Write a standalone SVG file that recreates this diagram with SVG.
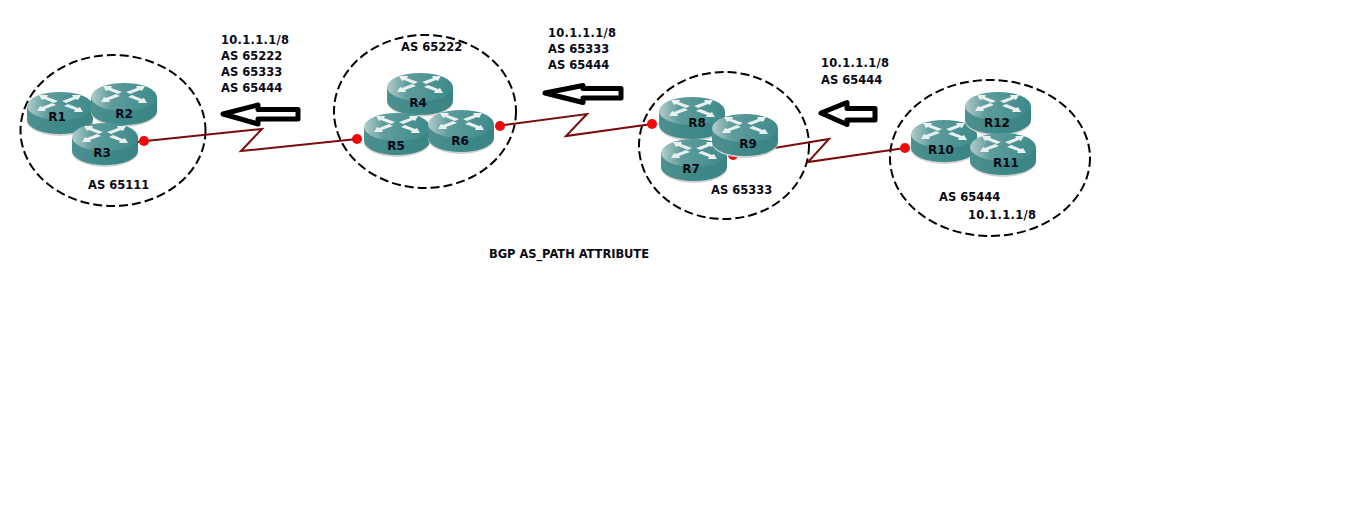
<svg xmlns="http://www.w3.org/2000/svg" width="1360" height="509" viewBox="0 0 1360 509">
<style>
text{font-family:"DejaVu Sans","Liberation Sans",sans-serif;font-weight:700;font-size:11.500px;fill:#0a0a14}
.rl{font-size:12px;text-anchor:middle}
.as{fill:none;stroke:#000;stroke-width:2;stroke-dasharray:9 4}
.link{fill:none;stroke:#7a0c0c;stroke-width:2}
.dot{fill:#f00a0a}
.arrow{fill:#fff;stroke:#000;stroke-width:5;stroke-linejoin:round}
</style>
<defs>
<linearGradient id="top" x1="0" x2="1" y1="0" y2="0"><stop offset="0" stop-color="#b4cccc"/><stop offset=".3" stop-color="#5f9c9c"/><stop offset="1" stop-color="#3c8a8a"/></linearGradient>
<linearGradient id="side" x1="0" x2="1" y1="0" y2="0"><stop offset="0" stop-color="#4f9090"/><stop offset=".5" stop-color="#3d8888"/><stop offset="1" stop-color="#3a8484"/></linearGradient>
<g id="router">
<ellipse cx="33" cy="29" rx="33" ry="15" fill="#d0d0d0"/>
<path d="M0 14V28A33 14 0 0 0 66 28V14Z" fill="url(#side)"/>
<ellipse cx="33" cy="14" rx="33" ry="14" fill="url(#top)"/>
<g fill="#e8f0f0">
<path d="M12 3L21 3L20 5L31 9L27 11L17 7L15 8Z"/>
<path d="M54 3L45 3L46 5L35 9L39 11L49 7L51 8Z"/>
<path d="M10 19L19 19L18 17L29 13L25 11L15 15L13 14Z"/>
<path d="M56 20L47 20L48 18L37 14L41 12L51 16L53 15Z"/>
</g>
</g>
</defs>
<g id="as-boundaries">
<ellipse class="as" cx="113" cy="130.500" rx="92.500" ry="75.500"/>
<ellipse class="as" cx="425" cy="111.500" rx="91" ry="76.500"/>
<ellipse class="as" cx="724" cy="145.500" rx="85" ry="73.500"/>
<ellipse class="as" cx="990" cy="158" rx="100" ry="78"/>
</g>
<g id="connectors">
<polyline class="link" points="136,142 262,129 241,151 357,139"/>
<polyline class="link" points="496,126 587,114 566,136 652,124"/>
<polyline class="link" points="732,155 829,139 808,162 905,148"/>
<circle class="dot" cx="144" cy="141" r="5"/>
<circle class="dot" cx="357" cy="139" r="5"/>
<circle class="dot" cx="500" cy="126" r="5"/>
<circle class="dot" cx="652" cy="124" r="5"/>
<circle class="dot" cx="733" cy="155" r="5"/>
<circle class="dot" cx="905" cy="148" r="5"/>
</g>
<g id="R1"><use href="#router" x="27" y="92"/><text class="rl" x="57" y="121">R1</text></g>
<g id="R2"><use href="#router" x="91" y="83"/><text class="rl" x="124" y="118">R2</text></g>
<g id="R3"><use href="#router" x="72" y="123"/><text class="rl" x="102" y="157">R3</text></g>
<g id="R4"><use href="#router" x="387" y="73"/><text class="rl" x="418" y="107">R4</text></g>
<g id="R5"><use href="#router" x="364" y="113"/><text class="rl" x="396" y="150">R5</text></g>
<g id="R6"><use href="#router" x="428" y="110"/><text class="rl" x="460" y="145">R6</text></g>
<g id="R8"><use href="#router" x="659" y="97"/><text class="rl" x="697" y="127">R8</text></g>
<g id="R7"><use href="#router" x="661" y="139"/><text class="rl" x="691" y="173">R7</text></g>
<g id="R9"><use href="#router" x="712" y="114"/><text class="rl" x="748" y="148">R9</text></g>
<g id="R10"><use href="#router" x="911" y="120"/><text class="rl" x="941" y="154">R10</text></g>
<g id="R12"><use href="#router" x="965" y="92"/><text class="rl" x="997" y="127">R12</text></g>
<g id="R11"><use href="#router" x="970" y="133"/><text class="rl" x="1006" y="167">R11</text></g>
<g id="arrows">
<polygon class="arrow" points="223,114 258,105 258,109.500 298,109.500 298,119 258,119 258,124"/>
<polygon class="arrow" points="545,93 583,85.500 583,88.500 621,88.500 621,98 583,98 583,102.500"/>
<polygon class="arrow" points="821,113 847,102.500 847,108.500 875,108.500 875,120 847,120 847,124.500"/>
</g>
<g id="labels">
<text x="88" y="189">AS 65111</text>
<text x="401" y="51">AS 65222</text>
<text x="711" y="194">AS 65333</text>
<text x="939" y="201">AS 65444</text>
<text x="968" y="219" textLength="68">10.1.1.1/8</text>
<text x="221" y="44" textLength="68">10.1.1.1/8</text>
<text x="221" y="60">AS 65222</text>
<text x="221" y="76">AS 65333</text>
<text x="221" y="92">AS 65444</text>
<text x="548" y="37" textLength="68">10.1.1.1/8</text>
<text x="548" y="53">AS 65333</text>
<text x="548" y="69">AS 65444</text>
<text x="821" y="67" textLength="68">10.1.1.1/8</text>
<text x="821" y="84">AS 65444</text>
<text x="489" y="258" textLength="160">BGP AS_PATH ATTRIBUTE</text>
</g>
</svg>
